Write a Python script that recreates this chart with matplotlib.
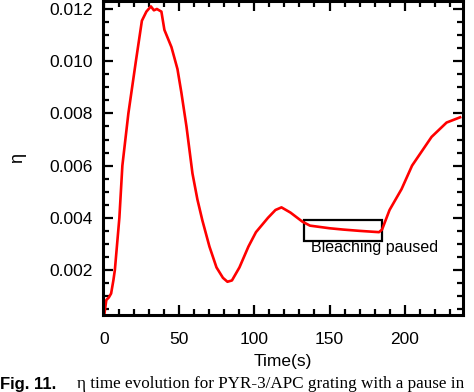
import matplotlib.pyplot as plt
from matplotlib.patches import Rectangle
from matplotlib.ticker import MultipleLocator

# eta(t)
time_s = [0, 1.3, 3, 4.5, 6, 7, 10, 12, 16, 21, 25, 28, 31, 33, 35, 38, 40, 44.7,
          48.7, 51.3, 54.7, 56.7, 58.7, 62, 65.3, 70, 74.7, 79, 82, 85, 90, 96,
          101, 109, 114, 118, 124, 132, 137, 150, 159, 170, 183, 185, 188, 190,
          198, 205, 218, 228, 237]
eta = [0.0003, 0.00085, 0.00095, 0.0011, 0.0016, 0.002, 0.004, 0.006, 0.008, 0.010,
       0.01155, 0.0119, 0.0121, 0.01195, 0.0120, 0.0119, 0.0112, 0.01054, 0.0097,
       0.0088, 0.0075, 0.0066, 0.0057, 0.0047, 0.0039, 0.0029, 0.0021, 0.0017,
       0.00155, 0.0016, 0.0021, 0.0029, 0.00345, 0.0040, 0.0043, 0.0044, 0.0042,
       0.00385, 0.0037, 0.0036, 0.00355, 0.0035, 0.00345, 0.00355, 0.0040, 0.0043,
       0.0051, 0.0060, 0.0071, 0.00765, 0.00785]

box_t = [133, 185]
box_eta = [0.0031, 0.0039]

plt.rcParams["font.family"] = ["Liberation Sans", "DejaVu Sans"]

fig = plt.figure(figsize=(4.74, 3.92), dpi=100)
ax = fig.add_axes([0.217, 0.196, 0.76, 0.801])

ax.plot(time_s, eta, color="red", lw=1.9)

ax.add_patch(Rectangle((box_t[0], box_eta[0]), box_t[1] - box_t[0],
                       box_eta[1] - box_eta[0], fill=False, ec="black", lw=1.6))
ax.text(138, 0.00285, "Bleaching paused", fontsize=11.5, va="center", ha="left")

ax.set_xlim(-1, 239)
ax.set_ylim(0.00027, 0.0123)
ax.xaxis.set_major_locator(MultipleLocator(50))
ax.xaxis.set_minor_locator(MultipleLocator(10))
ax.yaxis.set_minor_locator(MultipleLocator(0.0005))
ax.set_yticks([0.002, 0.004, 0.006, 0.008, 0.010, 0.012])
ax.set_yticklabels(["0.002", "0.004", "0.006", "0.008", "0.010", "0.012"])
ax.set_xticks([0, 50, 100, 150, 200])

ax.tick_params(which="both", direction="in", top=True, right=True, width=1.6,
               labelsize=12.5)
ax.tick_params(which="major", length=7)
ax.tick_params(which="minor", length=4)
ax.tick_params(axis="x", which="major", pad=12)
ax.tick_params(axis="y", which="major", pad=7)
for sp in ax.spines.values():
    sp.set_linewidth(2.2)

ax.set_xlabel("Time(s)", fontsize=12.5, labelpad=5)
ax.set_ylabel("η", fontsize=13, labelpad=17)

# caption, sitting on the bottom edge as in the scan
fig.text(0.0, 0.001, "Fig. 11.", fontsize=12, fontweight="bold", va="bottom")
fig.text(0.163, 0.001, "η time evolution for PYR-3/APC grating with a pause in",
         fontsize=12.3, family=["Liberation Serif", "DejaVu Serif"], va="bottom")

fig.savefig("out.png", dpi=100)
